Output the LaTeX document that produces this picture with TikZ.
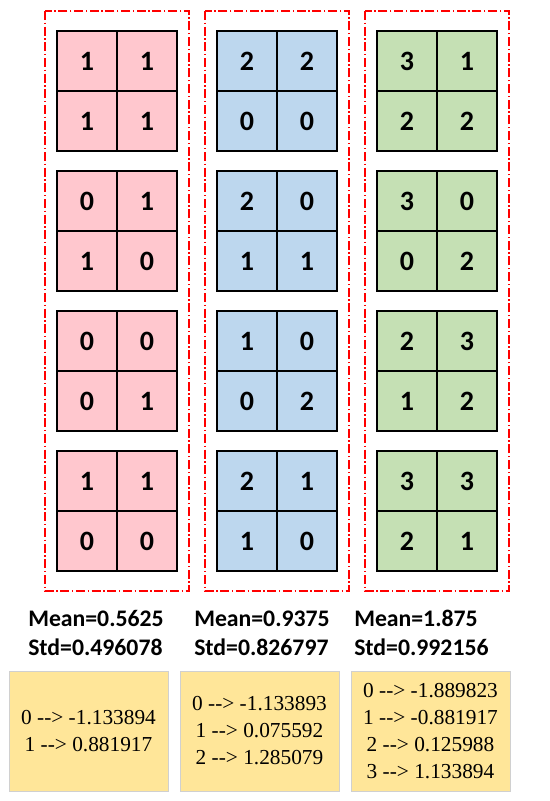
\documentclass[tikz,border=0pt]{standalone}
\usepackage{fontspec}
\setmainfont{Liberation Serif}
\newfontfamily\calfont{Carlito}
\usetikzlibrary{calc}
\definecolor{pinkc}{HTML}{FFC7CE}
\definecolor{bluec}{HTML}{BDD7EE}
\definecolor{greenc}{HTML}{C5E0B4}
\definecolor{yellowc}{HTML}{FFE699}
\definecolor{ygray}{HTML}{D0D0D0}
\newcommand\arr{-\kern0pt-\kern0pt>}
\newcommand\grid[8]{%
  \node[cell,fill=#4] (#1a) at (#2+30,#3+30) {#5};
  \node[cell,fill=#4] (#1b) at (#2+90,#3+30) {#6};
  \node[cell,fill=#4] (#1c) at (#2+30,#3+90) {#7};
  \node[cell,fill=#4] (#1d) at (#2+90,#3+90) {#8};
}
\begin{document}
\begin{tikzpicture}[x=0.75pt,y=-0.75pt,
  cell/.style={draw=black,line width=1pt,minimum size=45pt,inner sep=0pt,
    font=\calfont\bfseries\fontsize{21}{24}\selectfont},
  redbox/.style={draw=red,line width=1.1pt,
    dash pattern=on 6.75pt off 1.9pt on 1.2pt off 1.9pt},
  stat/.style={inner sep=0pt,anchor=base west,
    font=\calfont\bfseries\fontsize{17.8}{21}\selectfont},
  ybox/.style={draw=ygray,line width=0.75pt,fill=yellowc,minimum width=119.25pt,
    minimum height=90pt,inner sep=0pt,align=center,
    font=\fontsize{16}{20.25}\selectfont}]
\useasboundingbox (0,0) rectangle (550,801);
\fill[white] (0,0) rectangle (550,801);
% dashed frames
\draw[redbox] (45,11) rectangle (189,591);
\draw[redbox] (205,11) rectangle (349,591);
\draw[redbox] (365,11) rectangle (509,591);
% grids
\grid{p1}{57}{31}{pinkc}{1}{1}{1}{1}
\grid{p2}{57}{171}{pinkc}{0}{1}{1}{0}
\grid{p3}{57}{311}{pinkc}{0}{0}{0}{1}
\grid{p4}{57}{451}{pinkc}{1}{1}{0}{0}
\grid{b1}{217}{31}{bluec}{2}{2}{0}{0}
\grid{b2}{217}{171}{bluec}{2}{0}{1}{1}
\grid{b3}{217}{311}{bluec}{1}{0}{0}{2}
\grid{b4}{217}{451}{bluec}{2}{1}{1}{0}
\grid{g1}{377}{31}{greenc}{3}{1}{2}{2}
\grid{g2}{377}{171}{greenc}{3}{0}{0}{2}
\grid{g3}{377}{311}{greenc}{2}{3}{1}{2}
\grid{g4}{377}{451}{greenc}{3}{3}{2}{1}
% statistics
\node[stat] (m1) at (28,626.7) {Mean=0.5625};
\node[stat] (s1) at (28,655) {Std=0.496078};
\node[stat] (m2) at (194,626.7) {Mean=0.9375};
\node[stat] (s2) at (194,655) {Std=0.826797};
\node[stat] (m3) at (354,626.7) {Mean=1.875};
\node[stat] (s3) at (354,655) {Std=0.992156};
% mapping boxes
\node[ybox] (y1) at (88.5,731) {0 \arr{} -1.133894\\1 \arr{} 0.881917};
\node[ybox] (y2) at (259.5,731) {0 \arr{} -1.133893\\1 \arr{} 0.075592\\2 \arr{} 1.285079};
\node[ybox] (y3) at (430.5,731) {0 \arr{} -1.889823\\1 \arr{} -0.881917\\2 \arr{} 0.125988\\3 \arr{} 1.133894};
\end{tikzpicture}
\end{document}
